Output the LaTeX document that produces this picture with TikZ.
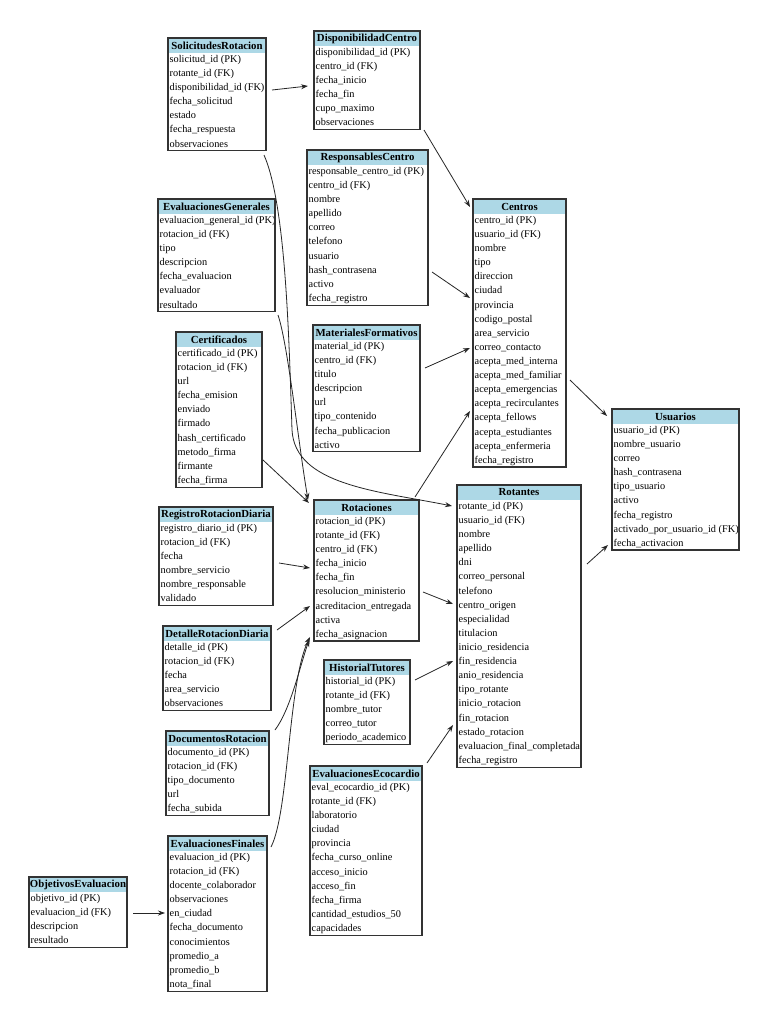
\documentclass[tikz,border=0pt]{standalone}
\usepackage{fontspec}
\setmainfont{Liberation Serif}
\usetikzlibrary{arrows.meta,calc}
\definecolor{hdrblue}{HTML}{ADD8E6}
\tikzset{
 tbl/.style={rectangle, inner sep=0pt, outer sep=0pt, fill=white},
 tblborder/.style={draw=black!80, line width=1.1pt},
 hdrfill/.style={fill=hdrblue},
 ttl/.style={inner sep=0pt, font=\bfseries\fontsize{10.8}{12}\selectfont},
 rowtxt/.style={inner sep=0pt, anchor=west, font=\fontsize{10.3}{12}\selectfont, text height=7pt, text depth=2pt},
 fk/.style={draw=black!85, line width=0.8pt, -{Stealth[length=7pt,width=5pt]}},
}
\newcommand\ertable[7]{%
  \pgfmathsetmacro\erh{28+(#5-1)*14.12}%
  \node[tbl, minimum width=#4pt, minimum height=\erh pt, anchor=north west] (#1) at (#2,#3) {};
  \fill[hdrfill] (#1.north west) rectangle ([yshift=-15pt]#1.north east);
  \node[ttl] (#1-t) at ([yshift=-7.5pt]#1.north) {#6};
  \foreach \r [count=\i] in {#7} {
    \node[rowtxt] (#1-\i) at ([xshift=1.5pt,yshift={-21.8pt-(\i-1)*14.12pt}]#1.north west) {\r};
  }
  \draw[tblborder] (#1.north west) rectangle (#1.south east);
}
\begin{document}
\begin{tikzpicture}[x=1pt,y=-1pt]
\useasboundingbox (0,0) rectangle (768,1024);
\fill[white] (0,0) rectangle (768,1024);

\ertable{sol}{168}{38}{98}{7}{SolicitudesRotacion}{solicitud\_id (PK), rotante\_id (FK), disponibilidad\_id (FK), fecha\_solicitud, estado, fecha\_respuesta, observaciones}
\ertable{disp}{314}{31}{106}{6}{DisponibilidadCentro}{disponibilidad\_id (PK), centro\_id (FK), fecha\_inicio, fecha\_fin, cupo\_maximo, observaciones}
\ertable{resp}{307}{150}{121}{10}{ResponsablesCentro}{responsable\_centro\_id (PK), centro\_id (FK), nombre, apellido, correo, telefono, usuario, hash\_contrasena, activo, fecha\_registro}
\ertable{evg}{158}{199}{117}{7}{EvaluacionesGenerales}{evaluacion\_general\_id (PK), rotacion\_id (FK), tipo, descripcion, fecha\_evaluacion, evaluador, resultado}
\ertable{cert}{176}{332}{86}{10}{Certificados}{certificado\_id (PK), rotacion\_id (FK), url, fecha\_emision, enviado, firmado, hash\_certificado, metodo\_firma, firmante, fecha\_firma}
\ertable{mat}{313}{325}{107}{8}{MaterialesFormativos}{material\_id (PK), centro\_id (FK), titulo, descripcion, url, tipo\_contenido, fecha\_publicacion, activo}
\ertable{cen}{473}{199}{93}{18}{Centros}{centro\_id (PK), usuario\_id (FK), nombre, tipo, direccion, ciudad, provincia, codigo\_postal, area\_servicio, correo\_contacto, acepta\_med\_interna, acepta\_med\_familiar, acepta\_emergencias, acepta\_recirculantes, acepta\_fellows, acepta\_estudiantes, acepta\_enfermeria, fecha\_registro}
\ertable{usu}{612}{409}{127}{9}{Usuarios}{usuario\_id (PK), nombre\_usuario, correo, hash\_contrasena, tipo\_usuario, activo, fecha\_registro, activado\_por\_usuario\_id (FK), fecha\_activacion}
\ertable{rot}{314}{500}{105}{9}{Rotaciones}{rotacion\_id (PK), rotante\_id (FK), centro\_id (FK), fecha\_inicio, fecha\_fin, resolucion\_ministerio, acreditacion\_entregada, activa, fecha\_asignacion}
\ertable{rnt}{457}{485}{124}{19}{Rotantes}{rotante\_id (PK), usuario\_id (FK), nombre, apellido, dni, correo\_personal, telefono, centro\_origen, especialidad, titulacion, inicio\_residencia, fin\_residencia, anio\_residencia, tipo\_rotante, inicio\_rotacion, fin\_rotacion, estado\_rotacion, evaluacion\_final\_completada, fecha\_registro}
\ertable{reg}{159}{507}{114}{6}{RegistroRotacionDiaria}{registro\_diario\_id (PK), rotacion\_id (FK), fecha, nombre\_servicio, nombre\_responsable, validado}
\ertable{det}{163}{626}{108}{5}{DetalleRotacionDiaria}{detalle\_id (PK), rotacion\_id (FK), fecha, area\_servicio, observaciones}
\ertable{his}{324}{660}{86}{5}{HistorialTutores}{historial\_id (PK), rotante\_id (FK), nombre\_tutor, correo\_tutor, periodo\_academico}
\ertable{doc}{166}{731}{103}{5}{DocumentosRotacion}{documento\_id (PK), rotacion\_id (FK), tipo\_documento, url, fecha\_subida}
\ertable{eco}{310}{766}{112}{11}{EvaluacionesEcocardio}{eval\_ecocardio\_id (PK), rotante\_id (FK), laboratorio, ciudad, provincia, fecha\_curso\_online, acceso\_inicio, acceso\_fin, fecha\_firma, cantidad\_estudios\_50, capacidades}
\ertable{evf}{168}{836}{99}{10}{EvaluacionesFinales}{evaluacion\_id (PK), rotacion\_id (FK), docente\_colaborador, observaciones, en\_ciudad, fecha\_documento, conocimientos, promedio\_a, promedio\_b, nota\_final}
\ertable{obj}{29}{877}{98}{4}{ObjetivosEvaluacion}{objetivo\_id (PK), evaluacion\_id (FK), descripcion, resultado}

\coordinate (bend1) at (292,430);

\draw[fk] ([shift={(104,52)}]sol.north west) -- ([shift={(-6,55)}]disp.north west);
\draw[fk] ([shift={(110,99)}]disp.north west) -- ([shift={(-3,8)}]cen.north west);
\draw[fk] ([shift={(125,122)}]resp.north west) -- ([shift={(-3,99)}]cen.north west);
\draw[fk] ([shift={(112,43)}]mat.north west) -- ([shift={(-3,149)}]cen.north west);
\draw[fk] ([shift={(97,181)}]cen.north west) -- ([shift={(-5,7)}]usu.north west);
\draw[fk] ([shift={(101,-3)}]rot.north west) -- ([shift={(-3,212)}]cen.north west);
\draw[fk] ([shift={(96,117)}]sol.north west) .. controls +(22,50) and +(-3,-90) .. (bend1) .. controls +(3,55) and +(-75,-15) .. ([shift={(-5,21)}]rnt.north west);
\draw[fk] ([shift={(120,116)}]evg.north west) .. controls +(10,30) and +(-10,-60) .. ([shift={(-6,0)}]rot.north west);
\draw[fk] ([shift={(87,128)}]cert.north west) -- ([shift={(-5,3)}]rot.north west);
\draw[fk] ([shift={(120,56)}]reg.north west) -- ([shift={(-4,68)}]rot.north west);
\draw[fk] ([shift={(114,4)}]det.north west) -- ([shift={(-4,106)}]rot.north west);
\draw[fk] ([shift={(109,-1)}]doc.north west) .. controls +(15,-20) and +(-10,30) .. ([shift={(-5,140)}]rot.north west);
\draw[fk] ([shift={(103,11)}]evf.north west) .. controls +(18,-35) and +(-22,45) .. ([shift={(-4,137)}]rot.north west);
\draw[fk] ([shift={(91,20)}]his.north west) -- ([shift={(-4,176)}]rnt.north west);
\draw[fk] ([shift={(117,-3)}]eco.north west) -- ([shift={(-4,240)}]rnt.north west);
\draw[fk] ([shift={(109,92)}]rot.north west) -- ([shift={(-4,119)}]rnt.north west);
\draw[fk] ([shift={(130,79)}]rnt.north west) -- ([shift={(-4,136)}]usu.north west);
\draw[fk] ([shift={(104,36)}]obj.north west) -- ([shift={(-3,77)}]evf.north west);
\end{tikzpicture}
\end{document}
